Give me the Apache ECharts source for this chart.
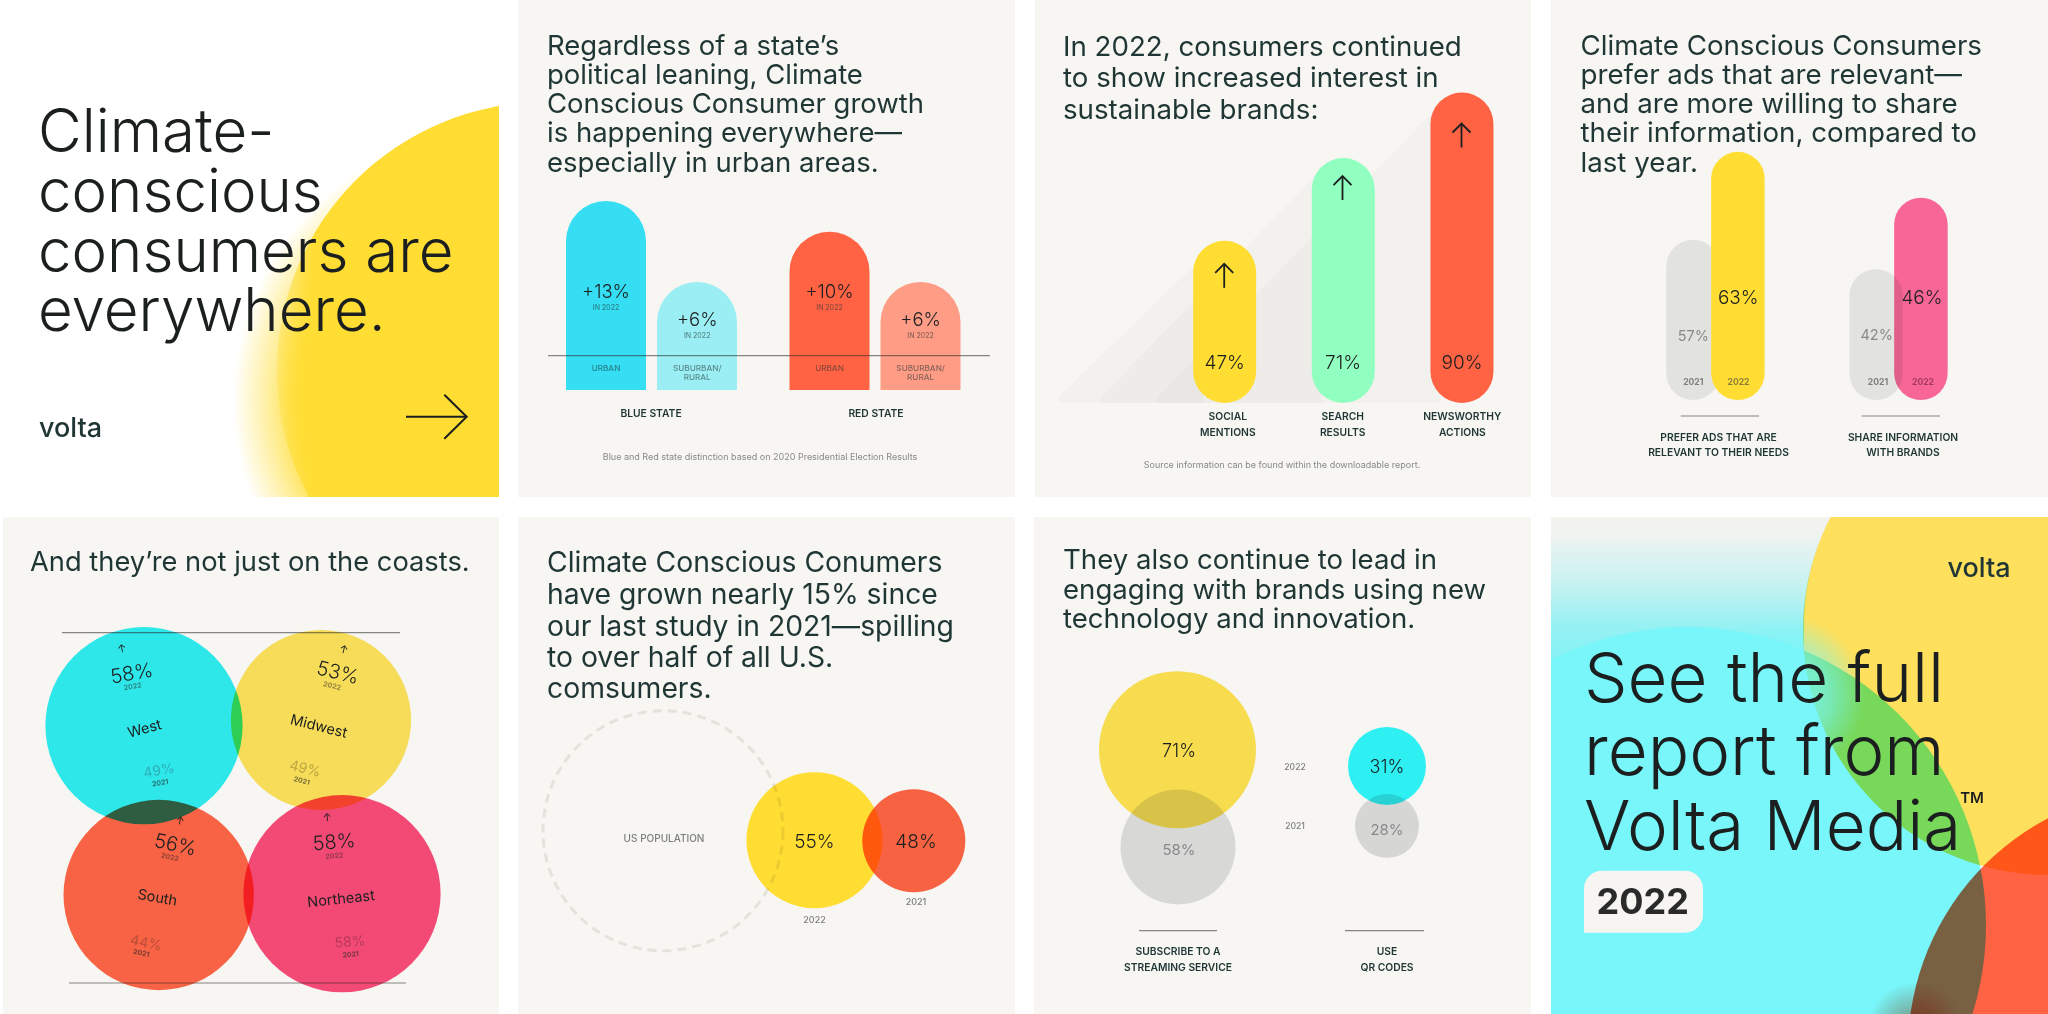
<!DOCTYPE html>
<html>
<head>
<meta charset="utf-8">
<title>Volta Media - Climate Conscious Consumers</title>
<script src="https://cdn.jsdelivr.net/npm/echarts@6/dist/echarts.min.js"></script>
<style>
  html, body { margin: 0; padding: 0; background: #fff; }
  #chart { width: 2048px; height: 1014px; }
</style>
</head>
<body>
<div id="chart"></div>
<script>
// data
var stateGroups = ['BLUE STATE', 'RED STATE'];
var blueStateGrowth = [13, 6];
var redStateGrowth = [10, 6];
var interestCategories = [['SOCIAL', 'MENTIONS'], ['SEARCH', 'RESULTS'], ['NEWSWORTHY', 'ACTIONS']];
var interestValues = [47, 71, 90];
var adsCategories = [['PREFER ADS THAT ARE', 'RELEVANT TO THEIR NEEDS'], ['SHARE INFORMATION', 'WITH BRANDS']];
var ads2021 = [57, 42];
var ads2022 = [63, 46];
var regions = ['West', 'Midwest', 'South', 'Northeast'];
var regions2022 = [58, 53, 56, 58];
var regions2021 = [49, 49, 44, 58];
var population = [55, 48];
var engageCategories = [['SUBSCRIBE TO A', 'STREAMING SERVICE'], ['USE', 'QR CODES']];
var engage2022 = [71, 31];
var engage2021 = [58, 28];

var FONT = 'Inter, "Noto Sans", sans-serif';
var INK = '#1f3634';
var DARK = '#1c1f1f';
var LINE = 'rgba(40,40,40,0.55)';
var GREY_TEXT = '#87898a';
var CAPS = 10.3;
var BIG_PCT = 19;

var grids = [], xAxes = [], yAxes = [], graphics = [], series = [];

function pct(v) { return v + '%'; }

function text(x, y, str, size, color, opt) {
  opt = opt || {};
  graphics.push({
    type: 'text', x: x, y: y, z: 20, silent: true,
    rotation: (opt.rot || 0) * Math.PI / 180,
    style: {
      text: str, fill: color,
      font: (opt.weight || 400) + ' ' + size + 'px ' + FONT,
      align: opt.align || 'center', verticalAlign: 'middle'
    }
  });
}

function lines(x, yList, rows, size, color, weight) {
  rows.forEach(function (row, i) { text(x, yList[i], row, size, color, { weight: weight || 600 }); });
}

function headline(x, yList, rows, size, color, weight) {
  rows.forEach(function (row, i) { text(x, yList[i], row, size, color || INK, { align: 'left', weight: weight || 400 }); });
}

function rule(x1, x2, y, z) {
  graphics.push({ type: 'line', silent: true, z: z || 15, shape: { x1: x1, y1: y, x2: x2, y2: y }, style: { stroke: LINE, lineWidth: 1.2 } });
}

function arrowUp(x, tip, len) {
  graphics.push({ type: 'polyline', silent: true, z: 20, shape: { points: [[x, tip + len], [x, tip]] }, style: { stroke: DARK, lineWidth: 1.8, fill: null } });
  graphics.push({ type: 'polyline', silent: true, z: 20, shape: { points: [[x - 9, tip + 9], [x, tip], [x + 9, tip + 9]] }, style: { stroke: DARK, lineWidth: 1.8, fill: null } });
}

function panel(x, y, w, h, fill) {
  graphics.push({ type: 'rect', silent: true, z: 0, shape: { x: x, y: y, width: w, height: h }, style: { fill: fill } });
}

// a hidden grid whose two value axes run in page units
var yIndexOfGrid = {};
function addPage(x0, y0, x1, y1) {
  grids.push({ left: x0, top: y0, width: x1 - x0, height: y1 - y0 });
  xAxes.push({ type: 'value', gridIndex: grids.length - 1, min: x0, max: x1, show: false });
  yAxes.push({ type: 'value', gridIndex: grids.length - 1, min: y0, max: y1, inverse: true, show: false });
  yIndexOfGrid[xAxes.length - 1] = yAxes.length - 1;
  return xAxes.length - 1;
}

// a hidden category grid, each y axis given by [min, max]
function bandGrid(left, top, width, height, cats, ranges) {
  grids.push({ left: left, top: top, width: width, height: height });
  var g = grids.length - 1, first = yAxes.length;
  xAxes.push({ type: 'category', gridIndex: g, data: cats, show: false });
  ranges.forEach(function (r) { yAxes.push({ type: 'value', gridIndex: g, min: r[0], max: r[1], show: false }); });
  return { x: xAxes.length - 1, y: first };
}

// blendMode is per series in echarts, it overwrites style.blend of the elements
function pillSeries(axes, yOffset, values, o) {
  return {
    type: 'custom', coordinateSystem: 'cartesian2d', silent: true, z: o.z || 3,
    blendMode: o.blend,
    xAxisIndex: axes.x, yAxisIndex: axes.y + yOffset,
    data: values.map(function (v, i) { return [i, v]; }).filter(function (d) { return o.only == null || d[0] === o.only; }),
    encode: { x: 0, y: 1 },
    renderItem: function (params, api) {
      var top = api.coord([api.value(0), api.value(1)]);
      var base = api.coord([api.value(0), o.base]);
      var r = o.width / 2;
      return {
        type: 'rect',
        shape: { x: top[0] + (o.offset || 0) - r, y: top[1], width: o.width, height: base[1] - top[1], r: o.arch ? [r, r, 0, 0] : r },
        style: { fill: o.colors[api.value(0)] }
      };
    }
  };
}

// circles: every item is {x, y, r, style}, placed through the grid's own axes
function circleSeries(g, items, clip, blend, z) {
  return {
    type: 'custom', coordinateSystem: 'cartesian2d', silent: true, z: z || 3, clip: !!clip,
    blendMode: blend,
    xAxisIndex: g, yAxisIndex: yIndexOfGrid[g],
    data: items.map(function (c) { return [c.x, c.y, c.r]; }),
    encode: { x: 0, y: 1 },
    renderItem: function (params, api) {
      var p = api.coord([api.value(0), api.value(1)]);
      return { type: 'circle', shape: { cx: p[0], cy: p[1], r: api.value(2) }, style: items[params.dataIndex].style };
    }
  };
}

// panel backgrounds
panel(518, 0, 497, 497, '#f7f6f2');
panel(1035, 0, 496, 497, '#f7f6f2');
panel(1551, 0, 497, 497, '#f7f6f2');
panel(3, 517, 496, 497, '#f7f6f2');
panel(518, 517, 497, 497, '#f7f6f2');
panel(1034, 517, 497, 497, '#f7f6f2');

// ---- panel 1
var p1 = addPage(0, 0, 499, 497);
series.push(circleSeries(p1, [
  { x: 545, y: 370, r: 268, style: { fill: { type: 'linear', x: 0, y: 0, x2: 1, y2: 0, colorStops: [
    { offset: 0, color: 'rgba(255,221,51,0.3)' }, { offset: 0.07, color: 'rgba(255,221,51,1)' }, { offset: 1, color: 'rgba(255,221,51,1)' }] } } },
  { x: 505, y: 400, r: 272, style: { fill: { type: 'radial', x: 0.5, y: 0.5, r: 0.5, colorStops: [
    { offset: 0, color: 'rgba(255,221,51,1)' }, { offset: 0.74, color: 'rgba(255,221,51,1)' },
    { offset: 0.86, color: 'rgba(255,221,51,0.5)' }, { offset: 1, color: 'rgba(255,221,51,0)' }] } } }
], true));
headline(38, [134, 194, 254, 313], ['Climate-', 'conscious', 'consumers are', 'everywhere.'], 60, DARK, 300);
text(39, 429, 'volta', 27, INK, { align: 'left', weight: 500 });
graphics.push({ type: 'polyline', silent: true, z: 20, shape: { points: [[406, 416.7], [466.7, 416.7]] }, style: { stroke: DARK, lineWidth: 2, fill: null } });
graphics.push({ type: 'polyline', silent: true, z: 20, shape: { points: [[444.3, 394.7], [466.7, 416.7], [444.3, 438.7]] }, style: { stroke: DARK, lineWidth: 2, fill: null } });

// ---- panel 2
headline(547, [47, 76, 105, 134, 164], ['Regardless of a state\u2019s', 'political leaning, Climate', 'Conscious Consumer growth', 'is happening everywhere\u2014', 'especially in urban areas.'], 27.5);
var blueAxes = bandGrid(560.5, 150, 182, 240, ['URBAN', 'SUBURBAN'], [[-3.336, 17.41]]);
var redAxes = bandGrid(784, 150, 182, 240, ['URBAN', 'SUBURBAN'], [[-2.571, 16.48]]);
series.push(pillSeries(blueAxes, 0, blueStateGrowth, { base: -3.336, width: 80, arch: true, colors: ['#35def2', '#9beef3'] }));
series.push(pillSeries(redAxes, 0, redStateGrowth, { base: -2.571, width: 80, arch: true, colors: ['#ff6344', '#ff9c86'] }));
rule(548, 990, 355.7);
[[606, blueStateGrowth[0]], [697.2, blueStateGrowth[1]], [829.5, redStateGrowth[0]], [920.6, redStateGrowth[1]]].forEach(function (b, i) {
  var y = i % 2 === 0 ? 292 : 320;
  text(b[0], y, '+' + pct(b[1]), 18.5, DARK, { weight: 300 });
  text(b[0], y + 16, 'IN 2022', 7, 'rgba(30,50,50,0.55)', { weight: 500 });
  if (i % 2 === 0) {
    text(b[0], 368.5, 'URBAN', 8.2, 'rgba(30,50,50,0.55)', { weight: 500 });
  } else {
    text(b[0], 368.5, 'SUBURBAN/', 8.2, 'rgba(30,50,50,0.55)', { weight: 500 });
    text(b[0], 377.5, 'RURAL', 8.2, 'rgba(30,50,50,0.55)', { weight: 500 });
  }
});
text(651, 414, stateGroups[0], CAPS, INK, { weight: 600 });
text(876, 414, stateGroups[1], CAPS, INK, { weight: 600 });
text(760, 457, 'Blue and Red state distinction based on 2020 Presidential Election Results', 9, GREY_TEXT);

// ---- panel 3
headline(1063, [48, 79, 111], ['In 2022, consumers continued', 'to show increased interest in', 'sustainable brands:'], 27.7);
var interestAxes = bandGrid(1165.3, 58, 356, 345, interestCategories.map(function (c) { return c[0]; }), [[0, 100]]);
var interestColors = ['#ffdd33', '#90ffc0', '#ff6344'];
var shadowDrop = [26, 21, 21], shadowReach = [136, 212, 274];
series.push({
  type: 'custom', coordinateSystem: 'cartesian2d', silent: true, z: 2,
  xAxisIndex: interestAxes.x, yAxisIndex: interestAxes.y,
  data: interestValues.map(function (v, i) { return [i, v]; }),
  encode: { x: 0, y: 1 },
  renderItem: function (params, api) {
    var i = params.dataIndex;
    var top = api.coord([api.value(0), api.value(1)]);
    var b = api.coord([api.value(0), 0])[1];
    var left = top[0] - 31.5, tip = top[1] + shadowDrop[i], bl = left - shadowReach[i];
    var d = 'M' + (left + 10) + ' ' + (tip - 10) + ' L' + (left + 10) + ' ' + b + ' L' + (bl + 10) + ' ' + b +
      ' Q' + (bl - 6) + ' ' + b + ' ' + (bl + 4) + ' ' + (b - 9) + ' Z';
    return { type: 'path', shape: { pathData: d }, style: { fill: 'rgba(60,60,40,0.022)' } };
  }
});
series.push({
  type: 'bar', silent: true, z: 3, xAxisIndex: interestAxes.x, yAxisIndex: interestAxes.y,
  barWidth: 63,
  data: interestValues.map(function (v, i) {
    return { value: v, itemStyle: { color: interestColors[i], borderRadius: 31.5 } };
  })
});
var interestX = [1224.7, 1343, 1462];
var arrowDrop = [23, 18, 31];
interestValues.forEach(function (v, i) {
  text(interestX[i], 363, pct(v), BIG_PCT, DARK, { weight: 300 });
  arrowUp(interestX[i] - 0.5, 403 - v * 3.45 + arrowDrop[i], 24);
});
lines(1227.8, [417, 433], interestCategories[0], CAPS, INK);
lines(1342.7, [417, 433], interestCategories[1], CAPS, INK);
lines(1462.3, [417, 433], interestCategories[2], CAPS, INK);
text(1282, 465, 'Source information can be found within the downloadable report.', 9, GREY_TEXT);

// ---- panel 4
headline(1580.5, [47, 76, 105, 134, 164], ['Climate Conscious Consumers', 'prefer ads that are relevant\u2014', 'and are more willing to share', 'their information, compared to', 'last year.'], 27.7);
// the two years are not drawn on one scale in the picture: one hidden axis each
var adsAxes = bandGrid(1624, 100, 366, 300, adsCategories.map(function (c) { return c[0]; }), [[-24.4, 127.9], [-28.9, 82.2]]);
var adsColors2022 = ['#ffdd33', '#ff6a9e'];
series.push(pillSeries(adsAxes, 0, ads2021, { base: -24.4, width: 53.5, offset: -22.4, colors: ['#e2e2df', '#e2e2df'], z: 3 }));
series.push(pillSeries(adsAxes, 1, ads2022, { base: -28.9, width: 53.5, offset: 22.4, colors: adsColors2022, only: 0, z: 4 }));
series.push(pillSeries(adsAxes, 1, ads2022, { base: -28.9, width: 53.5, offset: 22.4, colors: adsColors2022, only: 1, blend: 'multiply', z: 4 }));
text(1693.3, 336.7, pct(ads2021[0]), 14.5, GREY_TEXT);
text(1738.3, 298, pct(ads2022[0]), BIG_PCT, DARK, { weight: 300 });
text(1876.7, 335.7, pct(ads2021[1]), 14.5, GREY_TEXT);
text(1922, 298, pct(ads2022[1]), BIG_PCT, DARK, { weight: 300 });
text(1693.3, 382, '2021', 8.6, '#7d7f7d', { weight: 700 });
text(1738.5, 382, '2022', 8.6, '#8a7f3a', { weight: 700 });
text(1878, 382, '2021', 8.6, '#7d7f7d', { weight: 700 });
text(1923, 382, '2022', 8.6, '#a33a62', { weight: 700 });
rule(1680.7, 1759, 416);
rule(1861.7, 1940, 416);
lines(1718.5, [437.7, 453], adsCategories[0], CAPS, INK);
lines(1903, [437.7, 453], adsCategories[1], CAPS, INK);

// ---- panel 5
headline(30, [563], ['And they\u2019re not just on the coasts.'], 27.3);
var p5 = addPage(3, 517, 499, 1014);
var regionCenters = [[144, 725.7], [321, 720], [158.7, 895], [342, 893.7]];
var regionColors = ['#2ff0f6', '#fee45d', '#ff6747', '#fb4c7b'];
series.push(circleSeries(p5, regions2022.map(function (v, i) {
  return { x: regionCenters[i][0], y: regionCenters[i][1], r: v * 1.7, style: { fill: regionColors[i] } };
}), false, 'multiply'));
rule(62, 400, 632.7);
rule(69, 406, 983);
var regionText = [
  { rot: 10, arrow: [122, 649], now: [131.7, 674], nowYear: [132.7, 686.7], name: [144.7, 729], nameRot: 15, old: [159, 771], oldYear: [160.3, 783], oldColor: 'rgba(40,60,70,0.32)' },
  { rot: -14, arrow: [343.7, 650], now: [337.7, 673.3], nowYear: [332, 686], name: [318.7, 726.7], nameRot: -14, old: [305, 769], oldYear: [301.7, 781], oldColor: 'rgba(60,50,20,0.32)' },
  { rot: -12, arrow: [180, 821.3], now: [175.3, 845.3], nowYear: [170, 857.3], name: [157.3, 898], nameRot: -10, old: [146, 943.3], oldYear: [141.3, 953.3], oldColor: 'rgba(60,30,30,0.32)' },
  { rot: 5, arrow: [327.3, 817.7], now: [334, 842.7], nowYear: [334.3, 856], name: [341, 899.3], nameRot: 6, old: [350, 942.3], oldYear: [350.7, 954.7], oldColor: 'rgba(60,20,40,0.32)' }
];
regionText.forEach(function (t, i) {
  text(t.arrow[0], t.arrow[1], '\u2191', 11, DARK, { rot: t.rot });
  text(t.now[0], t.now[1], pct(regions2022[i]), 20, DARK, { rot: t.rot, weight: 300 });
  text(t.nowYear[0], t.nowYear[1], '2022', 7, 'rgba(40,40,40,0.5)', { rot: t.rot, weight: 700 });
  text(t.name[0], t.name[1], regions[i], 14.5, DARK, { rot: t.nameRot });
  text(t.old[0], t.old[1], pct(regions2021[i]), 14, t.oldColor, { rot: t.rot });
  text(t.oldYear[0], t.oldYear[1], '2021', 7, 'rgba(40,40,40,0.62)', { rot: t.rot, weight: 700 });
});

// ---- panel 6
headline(547, [563.7, 595, 627, 658, 689.7], ['Climate Conscious Conumers', 'have grown nearly 15% since', 'our last study in 2021\u2014spilling', 'to over half of all U.S.', 'comsumers.'], 28.3);
var p6 = addPage(518, 517, 1015, 1014);
series.push(circleSeries(p6, [
  { x: 814.5, y: 840.3, r: 68, style: { fill: '#ffdd33' } }
]));
series.push(circleSeries(p6, [
  { x: 913.8, y: 840.7, r: 51.5, style: { fill: '#ff6745' } },
  { x: 663, y: 830.7, r: 120, style: { fill: 'none', stroke: '#ecebe7', lineWidth: 3, lineDash: [9, 6] } }
], false, 'multiply'));
text(664, 839, 'US POPULATION', 10, '#7d7f7d', { weight: 500 });
text(814.5, 842, pct(population[0]), BIG_PCT, DARK, { weight: 300 });
text(916, 842, pct(population[1]), BIG_PCT, DARK, { weight: 300 });
text(814.5, 920, '2022', 9, '#7d7f7d', { weight: 500 });
text(916, 902, '2021', 9, '#7d7f7d', { weight: 500 });

// ---- panel 7
headline(1063, [561, 590.7, 619.7], ['They also continue to lead in', 'engaging with brands using new', 'technology and innovation.'], 27.6);
var p7 = addPage(1034, 517, 1531, 1014);
series.push(circleSeries(p7, [
  { x: 1178, y: 847, r: 57.5, style: { fill: '#d8d9d6' } },
  { x: 1387, y: 826, r: 32, style: { fill: '#d6d7d4' } }
]));
series.push(circleSeries(p7, [
  { x: 1177.5, y: 749.7, r: 78.5, style: { fill: '#ffe454' } },
  { x: 1387, y: 766, r: 39, style: { fill: '#2ff9ff' } }
], false, 'multiply'));
text(1179, 752, pct(engage2022[0]), 18, DARK, { weight: 300 });
text(1179, 850, pct(engage2021[0]), 15, GREY_TEXT);
text(1387, 768, pct(engage2022[1]), 18, DARK, { weight: 300 });
text(1387, 830, pct(engage2021[1]), 15, GREY_TEXT);
text(1295, 767, '2022', 8.6, '#7d7f7d', { weight: 500 });
text(1295, 826, '2021', 8.6, '#7d7f7d', { weight: 500 });
rule(1139, 1217, 930.7);
rule(1345, 1424, 930.7);
lines(1178, [952, 968], engageCategories[0], CAPS, INK);
lines(1387, [952, 968], engageCategories[1], CAPS, INK);

// ---- panel 8
var p8 = addPage(1551, 517, 2048, 1014);
series.push({
  type: 'custom', coordinateSystem: 'cartesian2d', silent: true, z: 2, clip: true,
  xAxisIndex: p8, yAxisIndex: yIndexOfGrid[p8],
  data: [[1551, 517]], encode: { x: 0, y: 1 },
  renderItem: function () {
    return {
      type: 'path',
      shape: { pathData: 'M1551 517 L1830.5 517 A245 245 0 0 0 1804 630 L1804 700 L1551 700 Z' },
      style: { fill: { type: 'linear', x: 0, y: 0, x2: 0, y2: 1, colorStops: [
        { offset: 0, color: '#f4f4f0' }, { offset: 0.1, color: '#eff3f0' }, { offset: 0.35, color: '#c9f2f1' },
        { offset: 0.6, color: '#95f1f3' }, { offset: 0.8, color: '#84f3f5' }, { offset: 1, color: '#7af5f8' }] } }
    };
  }
});
series.push(circleSeries(p8, [
  { x: 1688, y: 925, r: 298, style: { fill: '#78f6f9' } }
], true));
series.push(circleSeries(p8, [
  { x: 2048, y: 630, r: 245, style: { fill: '#ffe05c' } },
  { x: 2170, y: 1050, r: 262, style: { fill: '#ff6344' } }
], true, 'multiply'));
series.push(circleSeries(p8, [
  { x: 1785, y: 695, r: 80, style: { fill: { type: 'radial', x: 0.5, y: 0.5, r: 0.5, colorStops: [
    { offset: 0, color: 'rgba(120,246,249,0.95)' }, { offset: 0.55, color: 'rgba(120,246,249,0.6)' }, { offset: 1, color: 'rgba(120,246,249,0)' }] } } }
], true));
series.push(circleSeries(p8, [
  { x: 1915, y: 1030, r: 48, style: { fill: { type: 'radial', x: 0.5, y: 0.5, r: 0.5, colorStops: [
    { offset: 0, color: 'rgba(255,99,68,0.75)' }, { offset: 1, color: 'rgba(255,99,68,0)' }] } } }
], true, 'multiply'));
headline(1584, [681, 754, 829], ['See the full', 'report from', 'Volta Media'], 69, DARK, 300);
text(1972, 798, 'TM', 15, DARK, { weight: 600 });
text(1979, 569, 'volta', 27, INK, { weight: 500 });
graphics.push({ type: 'rect', silent: true, z: 15, shape: { x: 1584, y: 870.7, width: 119, height: 62, r: [18, 18, 18, 0] }, style: { fill: '#f6f5f1' } });
text(1642.7, 902.7, '2022', 36, '#2a2a2a', { weight: 700 });

var chart = echarts.init(document.getElementById('chart'), null, { renderer: 'canvas' });
chart.setOption({
  animation: false,
  backgroundColor: '#ffffff',
  tooltip: { show: false },
  grid: grids,
  xAxis: xAxes,
  yAxis: yAxes,
  series: series,
  graphic: { elements: graphics }
});
</script>
</body>
</html>
